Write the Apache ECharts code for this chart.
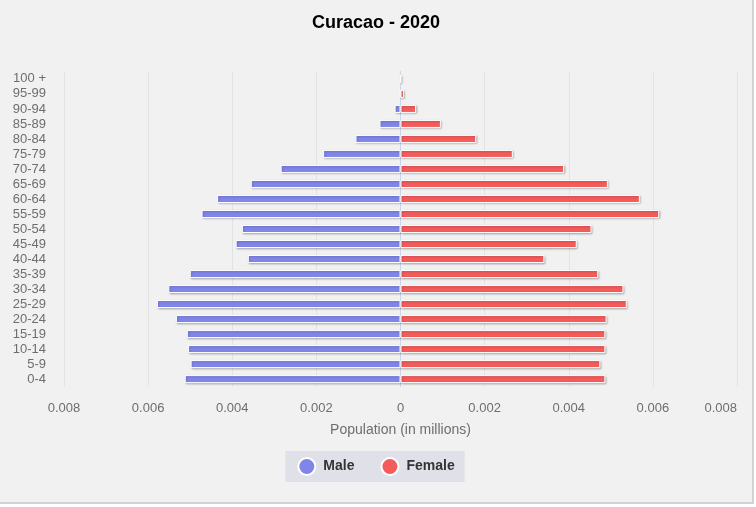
<!DOCTYPE html>
<html>
<head>
<meta charset="utf-8">
<script src="https://cdn.jsdelivr.net/npm/echarts@6/dist/echarts.min.js"></script>
<style>
  html, body { margin: 0; padding: 0; background: #ffffff; }
  #chart {
    width: 752px;
    height: 502px;
    background: #f1f1f1;
    border-right: 2px solid #d2d2d2;
    border-bottom: 2px solid #d2d2d2;
  }
</style>
</head>
<body>
<div id="chart"></div>
<script>
// age groups, bottom to top
const ageGroups = ["0-4", "5-9", "10-14", "15-19", "20-24", "25-29", "30-34", "35-39",
  "40-44", "45-49", "50-54", "55-59", "60-64", "65-69", "70-74", "75-79",
  "80-84", "85-89", "90-94", "95-99", "100 +"];

// population in millions (male shown on the left as negative)
const maleValues = [0.00513, 0.00499, 0.00505, 0.00508, 0.00534, 0.00579, 0.00552, 0.00501,
  0.00363, 0.00392, 0.00377, 0.00473, 0.00436, 0.00356, 0.00285, 0.00184,
  0.00107, 0.0005, 0.00014, 0.00002, 0];
const femaleValues = [0.00487, 0.00475, 0.00487, 0.00487, 0.0049, 0.00538, 0.0053, 0.0047,
  0.00342, 0.00419, 0.00454, 0.00615, 0.00569, 0.00493, 0.00389, 0.00267,
  0.0018, 0.00096, 0.00037, 0.00008, 0.00001];

const xTicks = { min: -0.008, max: 0.008, step: 0.002 };

const chart = echarts.init(document.getElementById("chart"));

const barStyle = (color) => ({
  color: color,
  borderColor: "#ffffff",
  borderWidth: 1,
  shadowColor: "rgba(0,0,0,0.22)",
  shadowBlur: 2,
  shadowOffsetX: 1,
  shadowOffsetY: 1
});

chart.setOption({
  backgroundColor: "transparent",
  animation: false,
  textStyle: { fontFamily: "Liberation Sans" },
  title: {
    text: "Curacao - 2020",
    left: "center",
    top: 9,
    textStyle: { color: "#000", fontSize: 18, fontWeight: "bold", fontFamily: "Liberation Sans" }
  },
  legend: {
    top: 451,
    left: "center",
    icon: "circle",
    itemWidth: 17,
    itemHeight: 17,
    itemGap: 26,
    padding: [6, 10, 6, 12],
    backgroundColor: "#E0E0E8",
    textStyle: {
      color: "#333", fontSize: 14, fontWeight: "bold", fontFamily: "Liberation Sans",
      padding: [0, 0, 0, 3]
    },
    data: ["Male", "Female"]
  },
  grid: {
    left: 64, right: 15, top: 71.4, bottom: 115.4,
    containLabel: false,
    outerBoundsMode: "none"
  },
  xAxis: {
    type: "value",
    min: xTicks.min,
    max: xTicks.max,
    interval: xTicks.step,
    name: "Population (in millions)",
    nameLocation: "middle",
    nameGap: 37,
    nameTextStyle: { color: "#6e6e70", fontSize: 14 },
    axisLine: { show: false },
    axisTick: { show: false },
    axisLabel: {
      color: "#6e6e70",
      fontSize: 13,
      margin: 15,
      alignMaxLabel: "right",
      formatter: (v) => {
        const a = Math.abs(v);
        return a === 0 ? "0" : a.toFixed(3);
      }
    },
    splitLine: { lineStyle: { color: "#e3e3e3", width: 1 } }
  },
  yAxis: {
    type: "category",
    data: ageGroups,
    axisLine: { show: true, lineStyle: { color: "#ccd6eb", width: 1 } },
    axisTick: { show: false },
    axisLabel: { color: "#6e6e70", fontSize: 13, margin: 18, interval: 0 }
  },
  series: [
    {
      name: "Male",
      type: "bar",
      data: maleValues.map(v => -v),
      barWidth: 8,
      barGap: "-100%",
      itemStyle: barStyle("#8085e9")
    },
    {
      name: "Female",
      type: "bar",
      data: femaleValues,
      barWidth: 8,
      itemStyle: barStyle("#f45b5b")
    }
  ]
});
</script>
</body>
</html>
